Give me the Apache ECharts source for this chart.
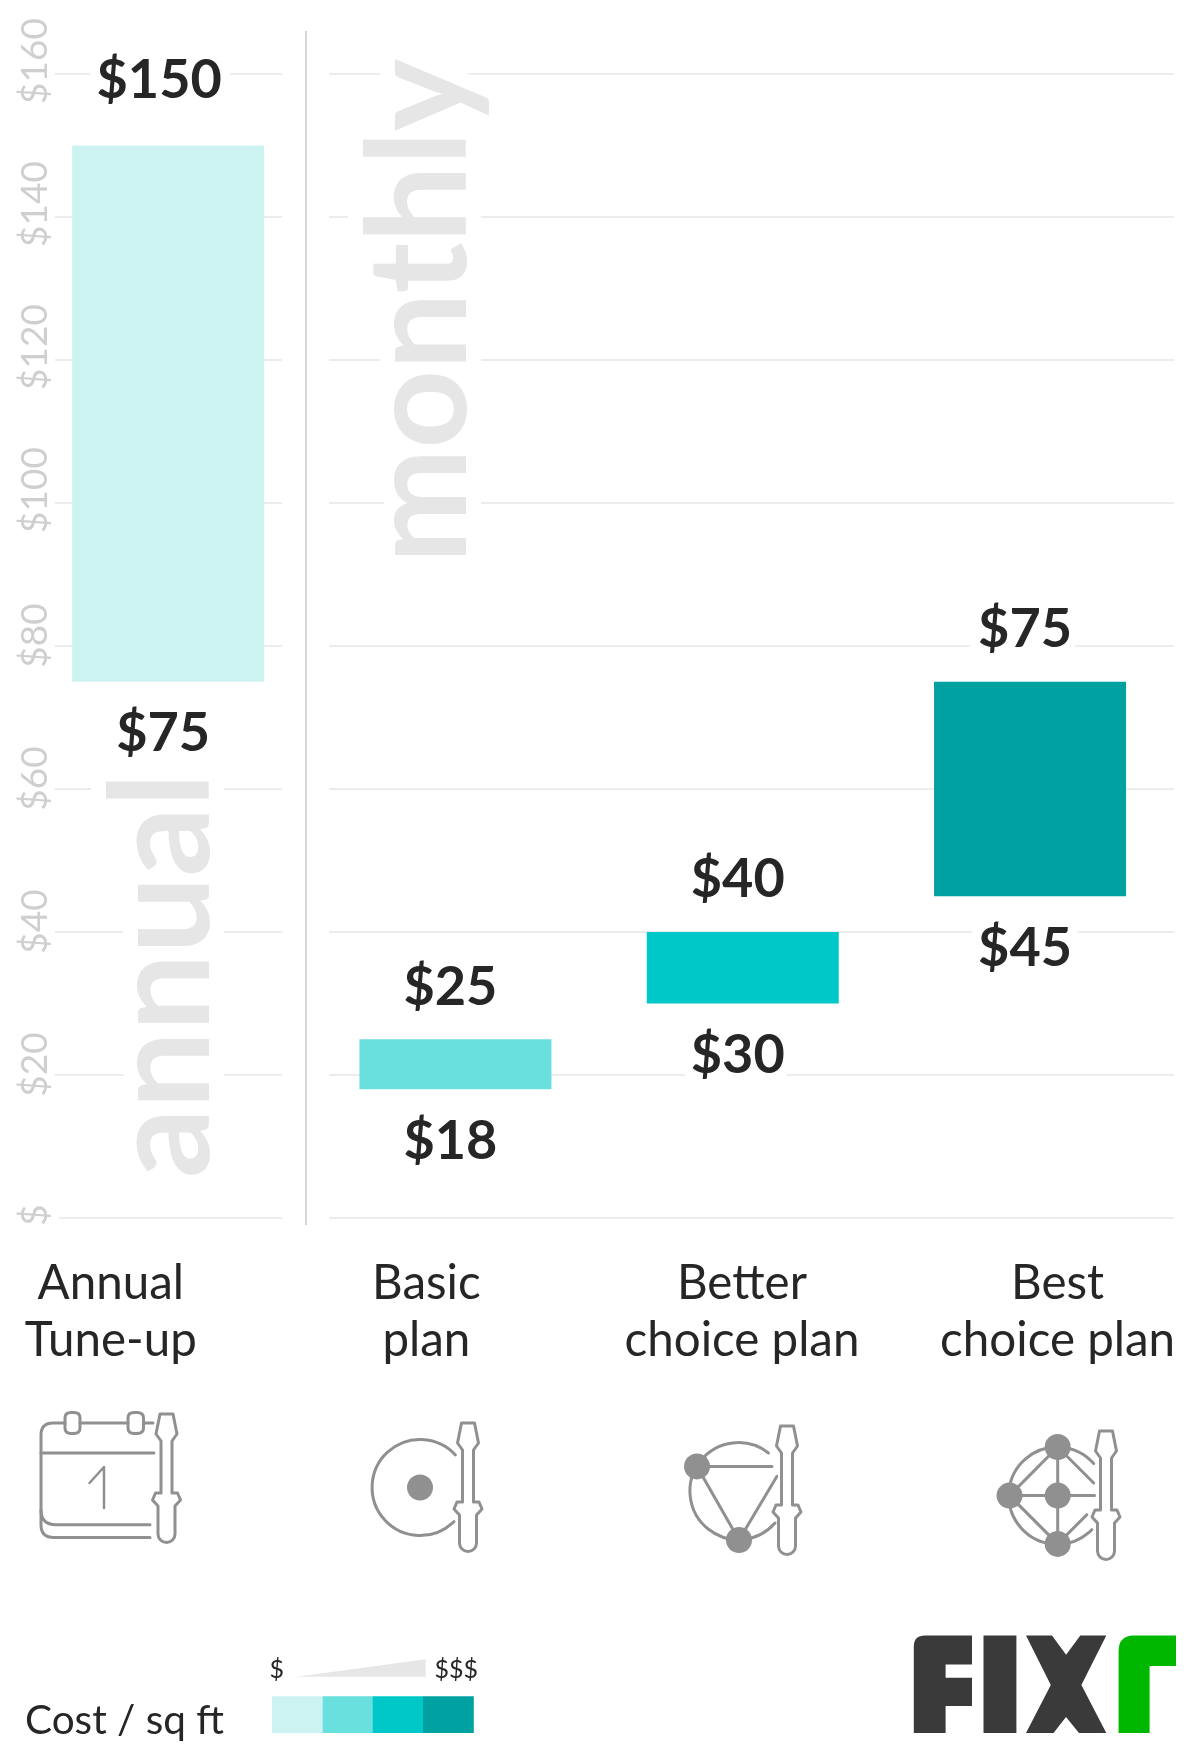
<!DOCTYPE html>
<html>
<head>
<meta charset="utf-8">
<title>Cost of HVAC maintenance plans</title>
<script src="https://cdn.jsdelivr.net/npm/echarts@6/dist/echarts.min.js"></script>
<style>
  html, body { margin: 0; padding: 0; background: #fff; }
  #chart { width: 1200px; height: 1757px; }
</style>
</head>
<body>
<div id="chart"></div>
<script>
// Data
const categories = ['Annual\nTune-up', 'Basic\nplan', 'Better\nchoice plan', 'Best\nchoice plan'];
const lowCost = [75, 18, 30, 45];
const highCost = [150, 25, 40, 75];
const yTickLabels = ['$', '$20', '$40', '$60', '$80', '$100', '$120', '$140', '$160'];
const barColors = ['#ccf3f2', '#69dfde', '#00c7c8', '#00a1a1'];
const watermarks = ['annual', 'monthly'];
const legendTitle = 'Cost / sq ft';
const legendEnds = ['$', '$$$'];

// Colors and fonts
const FONT = 'Lato';
const TEXT_COLOR = '#262626';
const GRID_COLOR = '#e6e6e6';
const ICON_COLOR = '#909090';

// Plot area, same for all the grids
const PLOT_TOP = 74;
const PLOT_HEIGHT = 1144;

const chart = echarts.init(document.getElementById('chart'), null, { renderer: 'canvas' });

// Screwdriver outline, cx is the middle of the blade and top its tip
function screwdriver(cx, top) {
  const p = (x, y) => `${cx + x} ${top + y}`;
  return `M${p(-6.5, 0)} L${p(6.5, 0)} L${p(10.5, 20)} L${p(5.5, 27)} L${p(5.5, 79)} L${p(11, 79)} L${p(14, 86)} ` +
    `L${p(8.5, 92)} L${p(8.5, 120)} A8.5 8.5 0 0 1 ${p(-8.5, 120)} L${p(-8.5, 92)} L${p(-14, 86)} L${p(-11, 79)} ` +
    `L${p(-5.5, 79)} L${p(-5.5, 27)} L${p(-10.5, 20)} Z`;
}

function iconPath(pathData, width) {
  return {
    type: 'path',
    shape: { pathData },
    style: { fill: 'none', stroke: ICON_COLOR, lineWidth: width || 3, lineCap: 'round', lineJoin: 'round' }
  };
}

function iconDot(cx, cy) {
  return { type: 'circle', shape: { cx, cy, r: 13 }, style: { fill: ICON_COLOR } };
}

function logoPath(pathData, fill) {
  return { type: 'path', shape: { pathData }, style: { fill } };
}

function plainText(text, x, y, fontSize) {
  return {
    type: 'text',
    x,
    y,
    style: { text, fontFamily: FONT, fontSize, fill: TEXT_COLOR, align: 'left', verticalAlign: 'top' }
  };
}

// Big rotated words behind the bars, the white stroke cuts the grid lines
function watermark(text, x, y) {
  return {
    type: 'text',
    x,
    y,
    rotation: Math.PI / 2,
    z: 1,
    style: {
      text,
      fontFamily: FONT,
      fontWeight: 'bold',
      fontSize: 137,
      fill: '#e6e6e6',
      stroke: '#fff',
      lineWidth: 30,
      align: 'right',
      verticalAlign: 'top'
    }
  };
}

// Icons and logo are plain vector paths
const decorations = [
  // Calendar icon
  iconPath('M65 1423 L53 1423 Q41 1423 41 1435 L41 1525 Q41 1537.5 54 1537.5 L150 1537.5'),
  iconPath('M41 1510 Q41 1524.7 56 1524.7 L150 1524.7'),
  iconPath('M80 1423 L128 1423 M143.5 1423 L153 1423'),
  iconPath('M41 1453 L154 1453'),
  iconPath('M71 1412.5 L74 1412.5 Q80 1412.5 80 1418 L80 1428 Q80 1433.5 74 1433.5 L71 1433.5 Q65 1433.5 65 1428 L65 1418 Q65 1412.5 71 1412.5 Z'),
  iconPath('M134 1412.5 L137 1412.5 Q143.5 1412.5 143.5 1418 L143.5 1428 Q143.5 1433.5 137 1433.5 L134 1433.5 Q128 1433.5 128 1428 L128 1418 Q128 1412.5 134 1412.5 Z'),
  iconPath('M89.5 1483 L104 1467 L104 1508', 2.5),
  iconPath(screwdriver(166.5, 1414)),

  // Basic plan icon
  iconPath('M455.4 1455 A48 48 0 1 0 454 1521.5'),
  iconDot(420, 1487.5),
  iconPath(screwdriver(468, 1423)),

  // Better plan icon
  iconPath('M768.4 1453 A48.5 48.5 0 1 0 775 1523'),
  iconPath('M697 1466.4 L772 1466.4 M697 1466.4 L739 1540 L776.8 1476.4'),
  iconDot(697, 1466.4),
  iconDot(739, 1540),
  iconPath(screwdriver(787, 1426)),

  // Best plan icon
  iconPath('M1093.7 1463.6 A48.5 48.5 0 1 0 1091.8 1529.7'),
  iconPath('M1057.7 1447 L1057.7 1543.9 M1009.5 1495.6 L1094.5 1495.6 M1057.7 1447 L1009.5 1495.6 L1057.7 1543.9 M1057.7 1447 L1093.7 1483 M1057.7 1543.9 L1086.8 1514.7'),
  iconDot(1057.7, 1447),
  iconDot(1009.5, 1495.6),
  iconDot(1057.7, 1495.6),
  iconDot(1057.7, 1543.9),
  iconPath(screwdriver(1106, 1431)),

  // Logo
  logoPath('M925 1635.5 L972 1635.5 L972 1664.6 L945.6 1664.6 L945.6 1677.8 L972 1677.8 L972 1706 L945.6 1706 L945.6 1733 L913.8 1733 L913.8 1646.5 Q913.8 1635.5 925 1635.5 Z', '#3a3a3a'),
  logoPath('M983.5 1635.5 L1016.4 1635.5 L1016.4 1733 L983.5 1733 Z', '#3a3a3a'),
  logoPath('M1026 1635.5 L1052 1635.5 L1066.1 1654.7 L1080.3 1635.5 L1106.3 1635.5 L1081.4 1684.9 L1106.3 1733 L1079 1733 L1066 1716.9 L1053.5 1733 L1026 1733 L1050.8 1684.9 Z', '#3a3a3a'),
  logoPath('M1134 1635.5 L1176 1635.5 L1176 1666 L1149.6 1666 L1149.6 1733 L1118.6 1733 L1118.6 1651 Q1118.6 1635.5 1134 1635.5 Z', '#00b700')
];

const graphics = [
  // Divider between annual and monthly
  { type: 'line', shape: { x1: 306, y1: 31, x2: 306, y2: 1225 }, style: { stroke: '#c8c8c8', lineWidth: 1.5 } },

  // Baselines sit 111px right of the anchors
  watermark(watermarks[0], 96, 773),
  watermark(watermarks[1], 353, 59),

  // Legend
  plainText(legendTitle, 25, 1700, 40.5),
  plainText(legendEnds[0], 269.5, 1657, 25),
  plainText(legendEnds[1], 434.5, 1657, 25),
  { type: 'polygon', shape: { points: [[296.6, 1676.7], [425.6, 1676.7], [425.6, 1659.3]] }, style: { fill: '#e6e6e6' } },
  { type: 'rect', shape: { x: 272, y: 1696.3, width: 50.6, height: 36.6 }, style: { fill: barColors[0] } },
  { type: 'rect', shape: { x: 322.6, y: 1696.3, width: 49.8, height: 36.6 }, style: { fill: barColors[1] } },
  { type: 'rect', shape: { x: 372.4, y: 1696.3, width: 50.6, height: 36.6 }, style: { fill: barColors[2] } },
  { type: 'rect', shape: { x: 423, y: 1696.3, width: 50.8, height: 36.6 }, style: { fill: barColors[3] } }
];

// Tick labels are rotated and sit a bit above their line, longer ones further
const tickStyle = {
  fontFamily: FONT,
  fontSize: 37,
  color: '#cfcfcf',
  textBorderColor: '#fff',
  textBorderWidth: 16
};

const priceLabel = {
  show: true,
  distance: 25,
  offset: [-5, 0],
  fontFamily: FONT,
  fontWeight: 'bold',
  fontSize: 54,
  color: TEXT_COLOR,
  textBorderColor: '#fff',
  textBorderWidth: 20
};

const option = {
  animation: false,
  backgroundColor: '#fff',
  textStyle: { fontFamily: FONT },
  graphic: { elements: graphics },

  grid: [
    { left: 55, width: 227, top: PLOT_TOP, height: PLOT_HEIGHT, outerBoundsMode: 'none' },   // annual grid lines
    { left: 329, width: 845, top: PLOT_TOP, height: PLOT_HEIGHT, outerBoundsMode: 'none' },  // monthly grid lines
    { left: 24.5, width: 1149.2, top: PLOT_TOP, height: PLOT_HEIGHT, outerBoundsMode: 'none' }, // bars
    { left: -47, width: 1262.4, top: PLOT_TOP, height: PLOT_HEIGHT, outerBoundsMode: 'none' }   // plan names
  ],

  xAxis: [
    { gridIndex: 0, type: 'category', show: false, data: [''] },
    { gridIndex: 1, type: 'category', show: false, data: [''] },
    { gridIndex: 2, type: 'category', data: categories, axisLine: { show: false }, axisTick: { show: false }, axisLabel: { show: false } },
    {
      gridIndex: 3,
      type: 'category',
      data: categories,
      axisLine: { show: false },
      axisTick: { show: false },
      axisLabel: {
        interval: 0,
        margin: 37,
        fontFamily: FONT,
        fontSize: 47.5,
        lineHeight: 57,
        color: TEXT_COLOR
      }
    }
  ],

  yAxis: [
    {
      gridIndex: 0,
      type: 'value',
      min: 0,
      max: 160,
      interval: 20,
      axisLine: { show: false },
      axisTick: { show: false },
      splitLine: { lineStyle: { color: GRID_COLOR, width: 1.5 } },
      axisLabel: {
        formatter: (value) => {
          const text = yTickLabels[value / 20];
          return `{t${text.length}|${text}}`;
        },
        rotate: 90,
        margin: 20,
        align: 'center',
        verticalAlign: 'middle',
        rich: {
          t1: Object.assign({ padding: [0, 0, 0, 6] }, tickStyle),
          t3: Object.assign({ padding: [0, 0, 0, 21] }, tickStyle),
          t4: Object.assign({ padding: [0, 0, 0, 26] }, tickStyle)
        }
      }
    },
    {
      gridIndex: 1,
      type: 'value',
      min: 0,
      max: 160,
      interval: 20,
      axisLine: { show: false },
      axisTick: { show: false },
      axisLabel: { show: false },
      splitLine: { lineStyle: { color: GRID_COLOR, width: 1.5 } }
    },
    { gridIndex: 2, type: 'value', min: 0, max: 160, interval: 20, show: false },
    { gridIndex: 3, type: 'value', min: 0, max: 160, interval: 20, show: false }
  ],

  series: [
    // Invisible base, carries the low price under each bar
    {
      type: 'bar',
      name: 'Low',
      xAxisIndex: 2,
      yAxisIndex: 2,
      stack: 'cost',
      barWidth: 192,
      z: 3,
      itemStyle: { color: 'transparent' },
      data: lowCost,
      label: Object.assign({}, priceLabel, {
        position: 'insideTop',
        formatter: (p) => '$' + lowCost[p.dataIndex]
      })
    },
    // Visible part, from low to high
    {
      type: 'bar',
      name: 'Range',
      xAxisIndex: 2,
      yAxisIndex: 2,
      stack: 'cost',
      barWidth: 192,
      z: 3,
      data: highCost.map((high, i) => ({
        value: high - lowCost[i],
        itemStyle: { color: barColors[i] },
        // the $150 sits higher than the others, over its grid line
        label: i === 0 ? { offset: [-9, -13] } : {}
      })),
      label: Object.assign({}, priceLabel, {
        position: 'top',
        formatter: (p) => '$' + highCost[p.dataIndex]
      })
    },
    // Icons and logo, nothing to do with the scales
    {
      type: 'custom',
      name: 'Decorations',
      coordinateSystem: 'none',
      silent: true,
      data: [0],
      renderItem: () => ({ type: 'group', children: decorations })
    }
  ]
};

chart.setOption(option);
</script>
</body>
</html>
